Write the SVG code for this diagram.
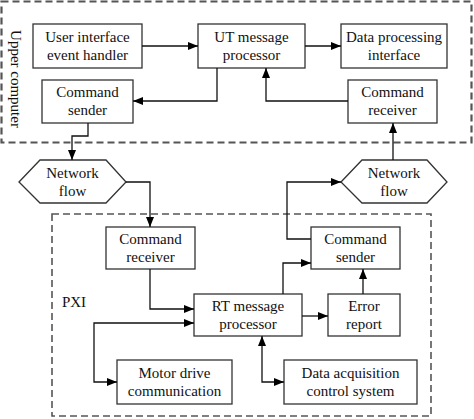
<svg xmlns="http://www.w3.org/2000/svg" width="474" height="419" viewBox="0 0 474 419">
<defs>
<marker id="ah" viewBox="0 0 10 8" refX="10" refY="4" markerWidth="10" markerHeight="8" markerUnits="userSpaceOnUse" orient="auto-start-reverse">
<path d="M0,0 L10,4 L0,8 Z" fill="#000"/>
</marker>
</defs>
<style>
.box{fill:#fff;stroke:#333;stroke-width:1.3}
.t{font-family:"Liberation Serif","Times New Roman",serif;font-size:15px;fill:#111;text-anchor:middle}
.c{fill:none;stroke:#111;stroke-width:1.3}
.dash{fill:none;stroke:#555;stroke-dasharray:7,4}
</style>
<rect width="474" height="419" fill="#fff"/>
<g id="upper-computer">
<rect class="dash" x="1.5" y="1.5" width="470" height="141" stroke-width="2.2"/>
<text class="t" transform="translate(11,79) rotate(90)">Upper computer</text>
</g>
<g id="pxi">
<rect class="dash" x="52" y="214" width="379" height="202" stroke-width="1.6"/>
<text class="t" x="74" y="307">PXI</text>
</g>
<g id="ui-handler">
<rect class="box" x="33" y="24" width="109" height="44"/>
<text class="t" x="87.5" y="42">User interface</text>
<text class="t" x="87.5" y="60">event handler</text>
</g>
<g id="ut-processor">
<rect class="box" x="198" y="24" width="107" height="44"/>
<text class="t" x="251.5" y="42">UT message</text>
<text class="t" x="251.5" y="60">processor</text>
</g>
<g id="data-processing">
<rect class="box" x="341" y="24" width="106" height="44"/>
<text class="t" x="394" y="42">Data processing</text>
<text class="t" x="394" y="60">interface</text>
</g>
<g id="upper-command-sender">
<rect class="box" x="42" y="80" width="91" height="43"/>
<text class="t" x="87.5" y="97">Command</text>
<text class="t" x="87.5" y="115">sender</text>
</g>
<g id="upper-command-receiver">
<rect class="box" x="348" y="80" width="89" height="43"/>
<text class="t" x="392.5" y="97">Command</text>
<text class="t" x="392.5" y="115">receiver</text>
</g>
<g id="network-flow-left">
<polygon class="box" points="19,182 40,160 106,160 126,182 106,203 40,203"/>
<text class="t" x="72.5" y="178">Network</text>
<text class="t" x="72.5" y="196">flow</text>
</g>
<g id="network-flow-right">
<polygon class="box" points="341,182 362,160 427,160 447,182 427,203 362,203"/>
<text class="t" x="394" y="178">Network</text>
<text class="t" x="394" y="196">flow</text>
</g>
<g id="lower-command-receiver">
<rect class="box" x="106" y="227" width="89" height="42"/>
<text class="t" x="150.5" y="244">Command</text>
<text class="t" x="150.5" y="262">receiver</text>
</g>
<g id="lower-command-sender">
<rect class="box" x="311" y="227" width="89" height="42"/>
<text class="t" x="355.5" y="244">Command</text>
<text class="t" x="355.5" y="262">sender</text>
</g>
<g id="rt-processor">
<rect class="box" x="194" y="294" width="108" height="42"/>
<text class="t" x="248" y="311">RT message</text>
<text class="t" x="248" y="329">processor</text>
</g>
<g id="error-report">
<rect class="box" x="328" y="294" width="72" height="42"/>
<text class="t" x="364" y="311">Error</text>
<text class="t" x="364" y="329">report</text>
</g>
<g id="motor-drive">
<rect class="box" x="117" y="360" width="115" height="44"/>
<text class="t" x="174.5" y="378">Motor drive</text>
<text class="t" x="174.5" y="396">communication</text>
</g>
<g id="data-acquisition">
<rect class="box" x="284" y="360" width="133" height="44"/>
<text class="t" x="350.5" y="378">Data acquisition</text>
<text class="t" x="350.5" y="396">control system</text>
</g>
<g id="connectors">
<path class="c" d="M142,46 H198" marker-end="url(#ah)"/>
<path class="c" d="M305,46 H341" marker-end="url(#ah)"/>
<path class="c" d="M217,68 V101 H133" marker-end="url(#ah)"/>
<path class="c" d="M348,101 H266 V68" marker-end="url(#ah)"/>
<path class="c" d="M88,123 V136 H72 V160" marker-end="url(#ah)"/>
<path class="c" d="M393,160 V123" marker-end="url(#ah)"/>
<path class="c" d="M126,182 H150 V227" marker-end="url(#ah)"/>
<path class="c" d="M311,239 H287 V182 H341" marker-end="url(#ah)"/>
<path class="c" d="M150,269 V309 H194" marker-end="url(#ah)"/>
<path class="c" d="M283,294 V263 H311" marker-end="url(#ah)"/>
<path class="c" d="M302,316 H328" marker-end="url(#ah)"/>
<path class="c" d="M363,294 V269" marker-end="url(#ah)"/>
<path class="c" d="M194,323 H94 V382 H117" marker-start="url(#ah)" marker-end="url(#ah)"/>
<path class="c" d="M262,336 V382 H284" marker-start="url(#ah)" marker-end="url(#ah)"/>
</g>
</svg>
